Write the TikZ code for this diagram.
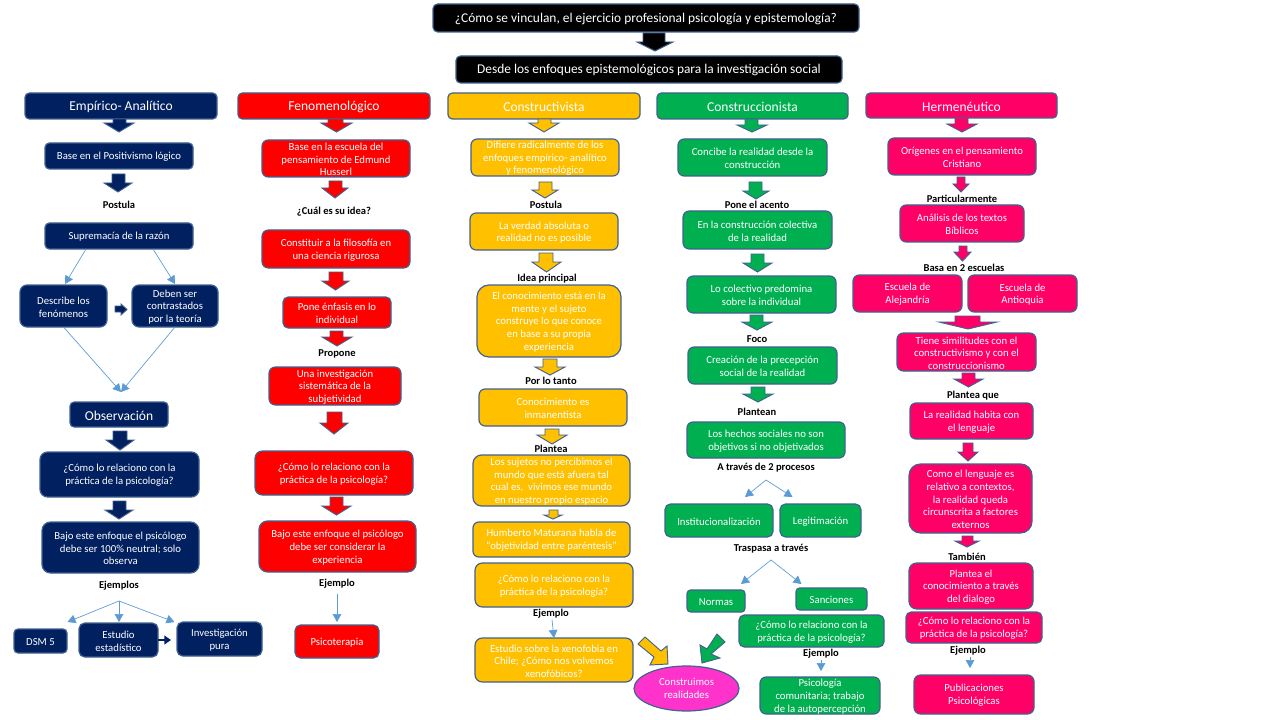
\documentclass[tikz,border=0pt]{standalone}
\usepackage{fontspec}
\setmainfont{Carlito}
\usetikzlibrary{arrows.meta,calc,shapes.geometric}
\definecolor{navy}{HTML}{002060}
\definecolor{amber}{HTML}{FFC000}
\definecolor{grn}{HTML}{00B050}
\definecolor{pnk}{HTML}{FF0066}
\definecolor{edge}{HTML}{41618F}
\definecolor{thinb}{HTML}{5B9BD5}
\tikzset{
  x=0.75pt,y=-0.75pt,
  boxbase/.style={draw=edge,line width=0.9pt,text=white,align=center,inner sep=-7pt,outer sep=0pt,
     text height={\the\ht\pgfnodeparttextbox+1.5pt},
     font=\fontsize{8.05}{9.5}\selectfont},
  nv/.style={boxbase,fill=navy},
  rd/.style={boxbase,fill=red},
  am/.style={boxbase,fill=amber},
  gn/.style={boxbase,fill=grn},
  pk/.style={boxbase,fill=pnk},
  blk/.style={boxbase,fill=black,font=\fontsize{10.05}{11}\selectfont},
  hd/.style={font=\fontsize{10.15}{12}\selectfont},
  lab/.style={text=black,font=\bfseries\fontsize{7.9}{9}\selectfont,inner sep=0pt,text height=5.2pt,text depth=0pt},
  thinar/.style={draw=thinb,line width=0.5pt,-{Triangle[length=6pt,width=6.5pt]}},
  fat/.style={draw=edge,line width=0.7pt,line join=miter},
}
\newcommand{\bx}[7][]{%
  \pgfmathsetmacro\bw{(#5-#3)*0.75}%
  \pgfmathsetmacro\bh{(#6-#4)*0.75}%
  \pgfmathsetmacro\br{min(\bw,\bh)/6}%
  \node[#2,#1,minimum width=\bw pt,minimum height=\bh pt,rounded corners=\br pt]
    (#7) at ({(#3+#5)/2},{(#4+#6)/2})}
\newcommand{\lb}[4]{\node[lab] (#1) at (#2,#3) {#4};}
\newcommand{\fa}[8]{\draw[fat,fill=#1] (#2,#6) -- (#3,#6) -- (#3,#7) -- (#5,#7) -- ({(#4+#5)/2},#8) -- (#4,#7) -- (#2,#7) -- cycle;}
\begin{document}
\begin{tikzpicture}
\useasboundingbox[fill=white] (0,0) rectangle (1280,720);

% top
\bx{blk}{433}{4}{859}{32}{top1} {¿Cómo se vinculan, el ejercicio profesional psicología y epistemología?};
\bx{blk}{456}{56}{842}{83}{top2} {Desde los enfoques epistemológicos para la investigación social};
\fa{black}{643}{665}{637}{673}{33}{42}{51}

% column 1
\bx[hd]{nv}{25}{93}{217}{119}{e0} {Empírico- Analítico};
\fa{navy}{113}{126}{104}{134}{119}{123}{132}
\bx{nv}{45}{143}{193}{169}{e1} {Base en el Positivismo lógico};
\fa{navy}{112}{125}{104}{132}{174}{183}{192}
\lb{l1}{119}{205}{Postula}
\bx{nv}{45}{223}{193}{249}{e2} {Supremacía de la razón};
\bx{nv}{20}{285}{107}{327}{e3} {Describe los\\fenómenos};
\bx{nv}{132}{285}{218}{327}{e4} {Deben ser\\contrastados\\por la teoría};
\draw[thinar] ($(e2.south)+(-33,0)$) -- ($(e3.north)+(1.5,-1)$);
\draw[thinar] ($(e2.south)+(34,0)$) -- ($(e4.north)+(0,-1)$);
\draw[fat,fill=navy] (115,306) -- (121,306) -- (121,304) -- (127,309.5) -- (121,315) -- (121,312) -- (115,312) -- cycle;
\coordinate (obsin) at (121,392);
\draw[thinar] (e3.south) -- (obsin);
\draw[thinar] (e4.south) -- (obsin);
\bx[hd]{nv}{70}{402}{168}{427}{e5} {Observación};
\fa{navy}{113}{127}{106}{134}{431}{440}{450}
\bx{nv}{40}{452}{199}{497}{e6} {¿Cómo lo relaciono con la\\práctica de la psicología?};
\fa{navy}{113}{126}{105}{133}{501}{510}{519}
\bx{nv}{42}{522}{199}{573}{e7} {Bajo este enfoque el psicólogo\\debe ser 100\% neutral; solo\\observa};
\lb{l2}{119}{585}{Ejemplos}
\bx{nv}{14}{629}{67}{653}{e8} {DSM 5};
\bx{nv}{79}{623}{158}{657}{e9} {Estudio\\estadístico};
\bx{nv}{177}{622}{262}{656}{e10} {Investigación\\pura};
\coordinate (fan1) at (119,601);
\draw[thinar] (fan1) -- ($(e8.north)+(27,-7)$);
\draw[thinar] (fan1) -- ($(e9.north)+(0.5,-1)$);
\draw[thinar] (fan1) -- ($(e10.north)+(-45,0)$);
\draw[draw=navy,line width=1.3pt,-{Triangle[length=5pt,width=6.5pt]}] (e9.east) -- ($(e9.east)+(13,0)$);

% column 2
\bx[hd]{rd}{238}{93}{430}{119}{f0} {Fenomenológico};
\fa{red}{328}{343}{321}{352}{119}{123}{132}
\bx{rd}{262}{140}{410}{177}{f1} {Base en la escuela del\\pensamiento de Edmund\\Husserl};
\fa{red}{329}{342}{322}{348}{181}{188}{198}
\lb{l3}{334}{211}{¿Cuál es su idea?}
\bx{rd}{262}{230}{410}{268}{f2} {Constituir a la filosofía en\\una ciencia rigurosa};
\fa{red}{329}{343}{322}{349}{272}{281}{290}
\bx{rd}{283}{297}{391}{328}{f3} {Pone énfasis en lo\\individual};
\fa{red}{330}{343}{322}{352}{331}{337}{346}
\lb{l4}{337}{353}{Propone}
\bx{rd}{269}{367}{401}{405}{f4} {Una investigación\\sistemática de la\\subjetividad};
\fa{red}{327}{342}{320}{348}{412}{423}{434}
\bx{rd}{255}{451}{413}{495}{f5} {¿Cómo lo relaciono con la\\práctica de la psicología?};
\fa{red}{330}{343}{322}{351}{497}{506}{515}
\bx{rd}{259}{521}{416}{572}{f6} {Bajo este enfoque el psicólogo\\debe ser considerar la\\experiencia};
\lb{l5}{337}{583}{Ejemplo}
\bx{rd}{295}{625}{379}{658}{f7} {Psicoterapia};
\draw[thinar] ($(l5.south)+(0,7)$) -- ($(f7.north)+(0,-3)$);

% column 3
\bx[hd]{am}{448}{93}{640}{119}{c0} {Constructivista};
\fa{amber}{538}{551}{529}{559}{119}{123}{132}
\bx{am}{471}{139}{619}{176}{c1} {Difiere radicalmente de los\\enfoques empírico- analítico\\y fenomenológico};
\fa{amber}{539}{552}{532}{558}{182}{190}{198}
\lb{l6}{546}{205}{Postula}
\bx{am}{470}{213}{618}{250}{c2} {La verdad absoluta o\\realidad no es posible};
\fa{amber}{539}{553}{532}{561}{253}{262}{272}
\lb{l7}{547}{278}{Idea principal}
\bx{am}{477}{285}{621}{357}{c3} {El conocimiento está en la\\mente y el sujeto\\construye lo que conoce\\en base a su propia\\experiencia};
\fa{amber}{543}{557}{535}{565}{359}{367}{375}
\lb{l8}{551}{381}{Por lo tanto}
\bx{am}{479}{389}{627}{426}{c4} {Conocimiento es\\inmanentista};
\fa{amber}{545}{559}{537}{567}{429}{435}{444}
\lb{l9}{551}{449}{Plantea}
\bx{am}{473}{455}{630}{506}{c5} {Los sujetos no percibimos el\\mundo que está afuera tal\\cual es,\ \ vivimos ese mundo\\en nuestro propio espacio};
\fa{amber}{549}{558}{544}{562}{510}{515}{519}
\bx{am}{473}{522}{630}{557}{c6} {Humberto Maturana habla de\\“objetividad entre paréntesis”};
\bx{am}{475}{563}{633}{607}{c7} {¿Cómo lo relaciono con la\\práctica de la psicología?};
\lb{l10}{551}{613}{Ejemplo}
\bx{am}{475}{638}{633}{682}{c8} {Estudio sobre la xenofobia en\\Chile; ¿Cómo nos volvemos\\xenofóbicos?};
\draw[thinar] ($(l10.south)+(1,3)$) -- (c8.north);
\draw[fat,fill=amber] (645,637) -- (661,651) -- (667,646) -- (668,664) -- (650,665) -- (654,657) -- (638,644) -- cycle;
\draw[fat,fill=grn] (717,634) -- (725,642) -- (711,654) -- (720,658) -- (702,663) -- (700,645) -- (707,649) -- cycle;
\node[ellipse,draw=edge,line width=0.9pt,fill={rgb,255:red,255;green,51;blue,204},text=white,align=center,
  minimum width=78.75pt,minimum height=33.75pt,inner sep=-7pt,font=\fontsize{8.05}{9.5}\selectfont]
  (cr) at (686.5,688.5) {Construimos\\realidades};

% column 4
\bx[hd]{gn}{657}{93}{848}{119}{g0} {Construccionista};
\fa{grn}{745}{758}{737}{767}{119}{125}{132}
\bx{gn}{678}{139}{827}{176}{g1} {Concibe la realidad desde la\\construcción};
\fa{grn}{749}{762}{743}{769}{182}{191}{199}
\lb{l11}{757}{205}{Pone el acento}
\bx{gn}{683}{211}{832}{249}{g2} {En la construcción colectiva\\de la realidad};
\fa{grn}{751}{764}{743}{772}{254}{263}{272}
\bx{gn}{687}{276}{836}{313}{g3} {Lo colectivo predomina\\sobre la individual};
\fa{grn}{750}{763}{742}{772}{315}{322}{330}
\lb{l12}{757}{339}{Foco}
\bx{gn}{688}{347}{837}{384}{g4} {Creación de la precepción\\social de la realidad};
\fa{grn}{751}{765}{743}{773}{387}{394}{402}
\lb{l13}{757}{412}{Plantean}
\bx{gn}{687}{422}{845}{458}{g5} {Los hechos sociales no son\\objetivos si no objetivados};
\lb{l14}{766}{467}{A través de 2 procesos}
\coordinate (fan2) at (766,480);
\bx{gn}{665}{504}{773}{537}{g6} {Institucionalización};
\bx{gn}{780}{504}{861}{537}{g7} {Legitimación};
\draw[thinar] (fan2) -- ($(g6.north)+(26,-7)$);
\draw[thinar] (fan2) -- ($(g7.north)+(-28,-7)$);
\lb{l15}{771}{548}{Traspasa a través}
\coordinate (fan3) at (771,560);
\bx{gn}{687}{590}{745}{612}{g8} {Normas};
\bx{gn}{796}{588}{867}{610}{g9} {Sanciones};
\draw[thinar] (fan3) -- ($(g8.north)+(25,-6)$);
\draw[thinar] (fan3) -- ($(g9.north)+(-30,-4)$);
\bx{gn}{739}{615}{884}{647}{g10} {¿Cómo lo relaciono con la\\práctica de la psicología?};
\lb{l16}{821}{653}{Ejemplo}
\bx{gn}{760}{677}{880}{714}{g11} {Psicología\\comunitaria; trabajo\\de la autopercepción};
\draw[thinar] ($(l16.south)+(0,3)$) -- ($(g11.north)+(1,-6)$);

% column 5
\bx[hd]{pk}{866}{93}{1057}{118}{h0} {Hermenéutico};
\fa{pnk}{955}{968}{947}{977}{118}{124}{132}
\bx{pk}{888}{138}{1036}{175}{h1} {Orígenes en el pensamiento\\Cristiano};
\fa{pnk}{957}{965}{953}{969}{177}{184}{192}
\lb{l17}{962}{199}{Particularmente}
\bx{pk}{900}{205}{1024}{242}{h2} {Análisis de los textos\\Bíblicos};
\fa{pnk}{959}{967}{954}{971}{246}{252}{261}
\lb{l18}{964}{268}{Basa en 2 escuelas}
\bx{pk}{853}{275}{962}{312}{h3} {Escuela de\\Alejandría};
\bx{pk}{968}{275}{1077}{312}{h4} {Escuela de\\Antioquia};
\fa{pnk}{955}{980}{939}{997}{316}{322}{329}
\bx{pk}{897}{333}{1036}{371}{h5} {Tiene similitudes con el\\constructivismo y con el\\construccionismo};
\fa{pnk}{962}{975}{954}{983}{373}{379}{387}
\lb{l19}{973}{395}{Plantea que}
\bx{pk}{910}{403}{1033}{439}{h6} {La realidad habita con\\el lenguaje};
\fa{pnk}{963}{973}{958}{978}{443}{452}{461}
\bx{pk}{909}{464}{1032}{533}{h7} {Como el lenguaje es\\relativo a contextos,\\la realidad queda\\circunscrita a factores\\externos};
\fa{pnk}{962}{973}{955}{979}{536}{541}{547}
\lb{l20}{967}{557}{También}
\bx{pk}{909}{563}{1033}{609}{h8} {Plantea el\\conocimiento a través\\del dialogo};
\bx{pk}{906}{612}{1042}{643}{h9} {¿Cómo lo relaciono con la\\práctica de la psicología?};
\lb{l21}{968}{650}{Ejemplo}
\bx{pk}{914}{675}{1034}{714}{h10} {Publicaciones\\Psicológicas};
\draw[thinar] ($(l21.south)+(2,3)$) -- ($(h10.north)+(-4,-7)$);
\end{tikzpicture}
\end{document}
